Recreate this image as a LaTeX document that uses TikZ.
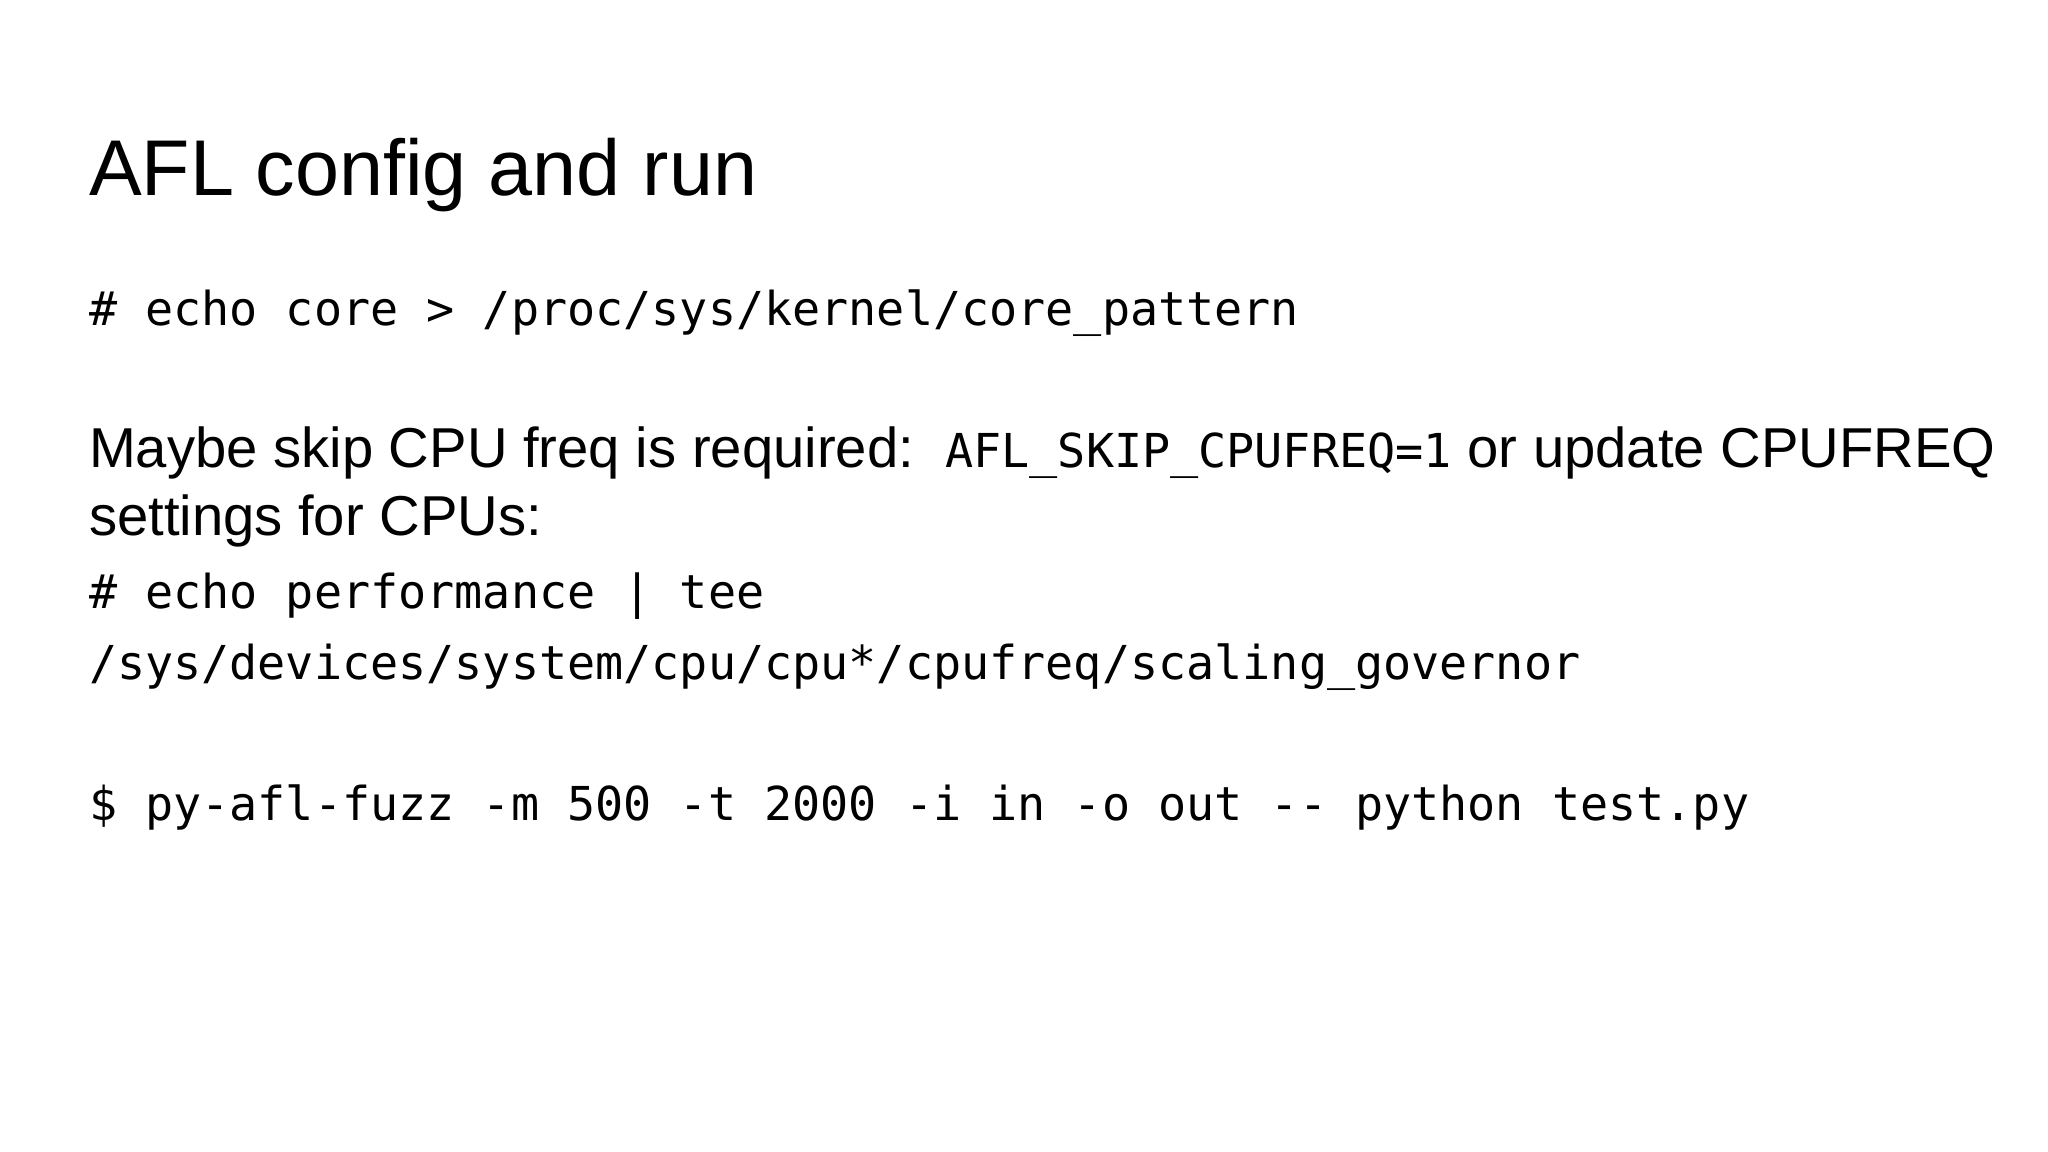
\documentclass[tikz,border=0pt]{standalone}
\usepackage{fontspec}
\setmainfont{Liberation Sans}
\setmonofont{DejaVu Sans Mono}
\begin{document}
\begin{tikzpicture}[txt/.style={anchor=base west,inner sep=0pt,outer sep=0pt},
 mono/.style={txt,font=\fontsize{13.3}{20}\ttfamily},
 body/.style={txt,font=\fontsize{16}{20}\selectfont}]
\useasboundingbox[fill=white] (0,0) rectangle (20.48,-11.52);
\node[txt,font=\fontsize{22.5}{27}\selectfont] (title) at (0.89,-1.96) {AFL config and run};
\node[mono] (l1) at (0.89,-3.26) {\# echo core > /proc/sys/kernel/core\_pattern};
\node[body] (l2) at (0.89,-4.68) {Maybe skip CPU freq is required:\ \ {\ttfamily\fontsize{13.3}{20}\selectfont AFL\_SKIP\_CPUFREQ=1} or update CPUFREQ};
\node[body] (l3) at (0.89,-5.35) {settings for CPUs:};
\node[mono] (l4) at (0.89,-6.09) {\# echo performance | tee};
\node[mono] (l5) at (0.89,-6.79) {/sys/devices/system/cpu/cpu*/cpufreq/scaling\_governor};
\node[mono] (l6) at (0.89,-8.20) {\$ py-afl-fuzz -m 500 -t 2000 -i in -o out -- python test.py};
\end{tikzpicture}
\end{document}
